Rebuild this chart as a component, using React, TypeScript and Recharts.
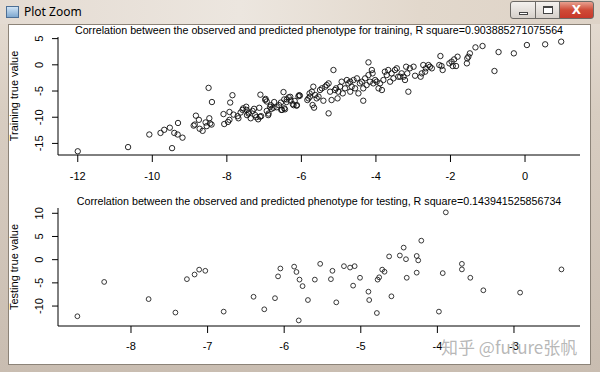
import React from 'react';
import { ScatterChart, Scatter, XAxis, YAxis } from 'recharts';

// ---------- data ----------
const trainX = [
  -12.0, -10.65, -10.08, -9.78, -9.68, -9.53, -9.47, -9.41, -9.32, -9.31, -9.19,
  -8.89, -8.86, -8.83, -8.75, -8.73, -8.65, -8.57, -8.54, -8.49, -8.47, -8.45, -8.41, -8.40,
  -8.09, -8.07, -7.97, -7.93, -7.91, -7.85, -7.93, -7.82, -7.71, -7.63, -7.69, -7.58,
  -7.48, -7.46, -7.41, -7.36, -7.31, -7.27, -7.21, -7.16, -7.13, -7.08, -7.10,
  -6.96, -6.93, -6.93, -6.88, -6.82, -6.80, -6.75, -6.73, -6.66, -6.60, -6.55, -6.52,
  -6.48, -6.46, -6.44, -6.40, -6.34, -6.29, -6.23, -6.18, -6.13, -6.08,
  -7.56, -7.47, -7.42, -7.24, -7.11, -6.97, -6.89, -6.84, -6.54, -6.46, -6.39, -6.30, -6.21, -6.12, -6.06,
  -6.04, -5.84, -5.81, -5.77, -5.78, -5.72, -5.68, -5.70, -5.66, -5.63, -5.59, -5.54,
  -5.50, -5.45, -5.41, -5.36, -5.32, -5.27, -5.27, -5.23, -5.19, -5.14, -5.10, -5.07,
  -5.03, -5.01, -4.96, -4.92, -4.89, -4.83, -4.78, -4.74, -4.69, -4.69, -4.65, -4.60,
  -4.56, -4.51, -4.47, -4.43, -4.38, -4.34, -4.34, -4.29, -4.25, -4.20, -4.20, -4.16,
  -4.11, -4.09, -4.07, -4.02, -3.98, -3.93, -3.89, -3.84, -3.80, -3.76, -3.71, -3.67,
  -3.62, -3.58, -3.53, -3.49, -3.44, -3.40, -3.35, -3.31, -3.26, -3.22, -3.19, -3.16,
  -3.13, -3.09, -2.99, -2.95, -2.80, -2.77, -2.73, -2.68, -2.66, -2.59, -2.55, -2.50,
  -2.30, -2.27, -2.24, -2.21, -2.03, -1.97, -1.94, -1.90, -1.85, -1.81, -1.56, -1.55,
  -1.52, -1.48, -1.33, -1.14, -0.82, -0.71, -0.30, 0.05, 0.54, 0.97,
];
const trainY = [
  -16.5, -15.7, -13.3, -13.0, -12.4, -12.0, -15.9, -13.0, -13.3, -11.1, -13.9,
  -11.6, -11.4, -9.7, -10.5, -12.2, -12.6, -11.0, -11.7, -4.4, -10.2, -11.2, -11.4, -7.1,
  -9.4, -11.3, -10.9, -10.5, -7.2, -5.8, -9.0, -9.5, -9.8, -9.1, -10.2, -8.6,
  -8.0, -9.6, -9.1, -10.2, -8.8, -8.4, -10.0, -10.4, -8.2, -9.8, -5.7,
  -6.5, -7.0, -8.8, -9.3, -7.7, -8.4, -8.2, -7.1, -8.1, -7.7, -7.2, -8.6,
  -5.2, -6.6, -8.5, -7.1, -6.2, -6.8, -7.5, -6.9, -7.8, -6.0,
  -8.3, -8.6, -9.3, -9.6, -9.9, -6.7, -9.6, -8.0, -8.6, -8.3, -6.6, -6.1, -7.7, -7.7, -5.8,
  -5.89, -6.72, -6.40, -6.08, -5.45, -5.13, -4.17, -7.67, -8.18, -5.76, -6.40, -6.08,
  -4.81, -4.49, -6.85, -4.17, -3.86, -3.54, -9.26, -5.13, -6.72, -0.99, -4.81, -4.49,
  -6.40, -5.13, -4.17, -3.22, -5.45, -4.49, -2.90, -3.54, -5.13, -3.22, -4.17, -2.90,
  -4.49, -2.58, -5.45, -3.54, -3.22, -6.85, -4.49, -2.58, -3.86, 0.47, -1.95, -3.22,
  -0.99, -1.63, -3.54, -2.90, -3.22, -4.49, -3.54, -4.81, -2.90, -1.31, -1.95, -0.99,
  -3.22, -1.63, -2.58, -0.99, -0.67, -2.27, -2.27, -1.63, -2.27, -2.90, -0.36, -1.63,
  -5.13, -0.67, -0.36, -2.08, -2.27, -1.63, -0.04, -1.31, -0.67, -0.04, -0.36, -0.67,
  -0.04, 1.68, -0.23, -0.99, 0.28, 0.60, -0.23, 1.04, -0.23, 1.55, 0.28, 1.23,
  1.55, 2.19, 3.33, 3.59, -1.18, 2.44, 2.19, 3.78, 3.91, 4.42,
];

const testX = [
  -8.70, -8.35, -7.77, -7.42, -7.27, -7.17, -7.11, -7.03, -6.79, -6.40, -6.26, -6.12,
  -6.08, -6.05, -5.87, -5.84, -5.80, -5.81, -5.76, -5.69, -5.60, -5.53, -5.39, -5.37,
  -5.32, -5.22, -5.14, -5.08, -5.10, -5.01, -4.90, -4.89, -4.79, -4.78, -4.76, -4.72,
  -4.69, -4.60, -4.63, -4.49, -4.44, -4.41, -4.40, -4.21, -4.27, -4.25, -4.27, -3.89,
  -3.93, -3.98, -3.68, -3.68, -3.57, -3.40, -2.92, -2.38,
];
const testY = [
  -12.2, -4.8, -8.5, -11.4, -4.2, -3.2, -2.15, -2.4, -11.2, -8.0, -10.7, -8.3,
  -3.6, -1.9, -1.5, -2.65, -4.3, -13.1, -5.7, -8.7, -4.3, -0.9, -4.2, -2.4,
  -9.2, -1.4, -1.7, -1.4, -5.6, -3.9, -6.9, -8.7, -11.5, -4.3, -3.8, -2.15,
  -2.6, -7.9, 0.7, 0.9, 2.6, 0.1, -3.9, 4.1, 0.8, -0.15, -2.8, 10.2,
  -2.9, -11.2, -0.9, -2.1, -3.9, -6.6, -7.1, -2.1,
];

const trainXTicks = [-12, -10, -8, -6, -4, -2, 0];
const trainYTicks = [-15, -10, -5, 0, 5];
const testXTicks = [-8, -7, -6, -5, -4, -3];
const testYTicks = [-10, -5, 0, 5, 10];

const trainTitle = 'Correlation between the observed and predicted phenotype for training, R square=0.903885271075564';
const testTitle = 'Correlation between the observed and predicted phenotype for testing, R square=0.143941525856734';
const trainYLabel = 'Training true value';
const testYLabel = 'Testing true value';
const windowTitle = 'Plot Zoom';
const watermark = '知乎 @future张帆';

const trainData = trainX.map((x, i) => ({ x, y: trainY[i] }));
const testData = testX.map((x, i) => ({ x, y: testY[i] }));

// ---------- style ----------
const FONT = '"Liberation Sans", Arial, sans-serif';
const FS = 11;
const TITLE_FS = 10.7;

const makeXTick = (baseline: number) => (props: any) => {
  const { x, payload } = props;
  return (
    <text x={x} y={baseline} textAnchor="middle" fontFamily={FONT} fontSize={FS} fill="#000">
      {payload.value}
    </text>
  );
};

const YTick = (props: any) => {
  const { y, payload } = props;
  const bx = 43;
  return (
    <text
      x={bx}
      y={y}
      transform={`rotate(-90, ${bx}, ${y})`}
      textAnchor="middle"
      fontFamily={FONT}
      fontSize={FS}
      fill="#000"
    >
      {payload.value}
    </text>
  );
};

const circleShape = (r: number, stroke: string) => (p: any) => (
  <circle cx={p.cx} cy={p.cy} r={r} fill="none" stroke={stroke} strokeWidth={0.9} />
);

interface PanelProps {
  data: { x: number; y: number }[];
  height: number;
  top: number;
  xAxisH: number;
  xDomain: [number, number];
  yDomain: [number, number];
  xTicks: number[];
  yTicks: number[];
  title: string;
  titleY: number;
  yLabel: string;
  xLabelBaseline: number;
  r: number;
  stroke: string;
}

const Panel = (p: PanelProps) => {
  const plotTop = p.top;
  const plotBottom = p.height - p.xAxisH;
  const cy = (plotTop + plotBottom) / 2;
  return (
    <ScatterChart
      width={600}
      height={p.height}
      margin={{ top: p.top, right: 20, bottom: 0, left: 0 }}
      style={{ background: 'transparent' }}
    >
      <XAxis
        xAxisId="b"
        type="number"
        dataKey="x"
        domain={p.xDomain}
        allowDataOverflow
        ticks={p.xTicks}
        interval={0}
        height={p.xAxisH}
        tickSize={7}
        axisLine={{ stroke: '#000' }}
        tickLine={{ stroke: '#000' }}
        tick={makeXTick(p.xLabelBaseline)}
      />
      <XAxis
        xAxisId="t"
        orientation="top"
        type="number"
        domain={p.xDomain}
        allowDataOverflow
        height={0}
        tick={false}
        tickLine={false}
        axisLine={{ stroke: '#000' }}
      />
      <YAxis
        yAxisId="l"
        type="number"
        dataKey="y"
        domain={p.yDomain}
        allowDataOverflow
        ticks={p.yTicks}
        interval={0}
        width={58}
        tickSize={6}
        axisLine={{ stroke: '#000' }}
        tickLine={{ stroke: '#000' }}
        tick={<YTick />}
      />
      <YAxis
        yAxisId="r"
        orientation="right"
        type="number"
        domain={p.yDomain}
        allowDataOverflow
        width={0}
        tick={false}
        tickLine={false}
        axisLine={{ stroke: '#000' }}
      />
      <Scatter
        xAxisId="b"
        yAxisId="l"
        data={p.data}
        isAnimationActive={false}
        shape={circleShape(p.r, p.stroke)}
      />
      <text x={319} y={p.titleY} textAnchor="middle" fontFamily={FONT} fontSize={TITLE_FS} fill="#000">
        {p.title}
      </text>
      <text
        x={17.5}
        y={cy}
        transform={`rotate(-90, 17.5, ${cy})`}
        textAnchor="middle"
        fontFamily={FONT}
        fontSize={FS}
        fill="#000"
      >
        {p.yLabel}
      </text>
    </ScatterChart>
  );
};

const btnBase: React.CSSProperties = {
  position: 'absolute',
  top: 1,
  height: 18,
  boxSizing: 'border-box',
  border: '1px solid #6d6a66',
  borderRadius: 3,
};

export default function App() {
  return (
    <div
      style={{
        position: 'absolute',
        left: 0,
        top: 0,
        width: 600,
        height: 372,
        overflow: 'hidden',
        background: 'linear-gradient(180deg, #e6ddd3 0%, #d8cdc1 30%, #c9bdb1 100%)',
      }}
    >
      {/* title bar */}
      <div
        style={{
          position: 'absolute',
          left: 0,
          top: 0,
          width: 600,
          height: 24,
          background: 'linear-gradient(90deg, #e4dbd2 0%, #ece6df 40%, #e2d8cc 70%, #ded3c7 100%)',
        }}
      />
      <div
        style={{
          position: 'absolute',
          left: 6,
          top: 6,
          width: 11,
          height: 10,
          background: 'linear-gradient(180deg,#cfe3f5,#7fa8cf)',
          border: '1px solid #4d6f95',
        }}
      />
      <div
        style={{
          position: 'absolute',
          left: 24,
          top: 4,
          fontFamily: '"Noto Sans", "DejaVu Sans", sans-serif',
          fontSize: 12,
          color: '#000',
          lineHeight: '15px',
        }}
      >
        {windowTitle}
      </div>
      {/* window buttons */}
      <div style={{ ...btnBase, left: 510, width: 26, background: 'linear-gradient(180deg,#f4f1ee,#d6d0ca)', borderRadius: '3px 0 0 3px' }}>
        <div style={{ position: 'absolute', left: 8, top: 10, width: 9, height: 3, background: '#fff', border: '1px solid #444', boxSizing: 'border-box' }} />
      </div>
      <div style={{ ...btnBase, left: 535, width: 25, background: 'linear-gradient(180deg,#f4f1ee,#d6d0ca)', borderRadius: 0 }}>
        <div style={{ position: 'absolute', left: 7, top: 4, width: 10, height: 8, border: '1px solid #444', borderTopWidth: 2, boxSizing: 'border-box', background: '#fff' }} />
      </div>
      <div
        style={{
          ...btnBase,
          left: 559,
          width: 35,
          background: 'linear-gradient(180deg,#e8a08f 0%,#cf4b37 50%,#c7382a 100%)',
          borderRadius: '0 3px 3px 0',
          color: '#fff',
          fontFamily: '"DejaVu Sans", sans-serif',
          fontWeight: 'bold',
          fontSize: 12,
          textAlign: 'center',
          lineHeight: '16px',
        }}
      >
        X
      </div>
      {/* client area */}
      <div
        style={{
          position: 'absolute',
          left: 8,
          top: 24,
          width: 583,
          height: 341,
          background: '#fff',
          border: '1px solid #8c8378',
          boxSizing: 'border-box',
        }}
      />
      <div style={{ position: 'absolute', left: 0, top: 0 }}>
        <Panel
          data={trainData}
          height={190}
          top={37}
          xAxisH={35}
          xDomain={[-12.53, 1.475]}
          yDomain={[-17.21, 5.31]}
          xTicks={trainXTicks}
          yTicks={trainYTicks}
          title={trainTitle}
          titleY={34}
          yLabel={trainYLabel}
          xLabelBaseline={180}
          r={2.7}
          stroke="#111"
        />
      </div>
      <div style={{ position: 'absolute', left: 0, top: 190 }}>
        <Panel
          data={testData}
          height={182}
          top={18}
          xAxisH={46}
          xDomain={[-8.953, -2.138]}
          yDomain={[-14.3, 11.14]}
          xTicks={testXTicks}
          yTicks={testYTicks}
          title={testTitle}
          titleY={15}
          yLabel={testYLabel}
          xLabelBaseline={160}
          r={2.4}
          stroke="#222"
        />
      </div>
      <div
        style={{
          position: 'absolute',
          left: 441,
          top: 337,
          fontFamily: '"Noto Sans CJK SC", sans-serif',
          fontSize: 17,
          lineHeight: '20px',
          color: 'rgba(165,165,165,0.8)',
          whiteSpace: 'nowrap',
        }}
      >
        {watermark}
      </div>
    </div>
  );
}
